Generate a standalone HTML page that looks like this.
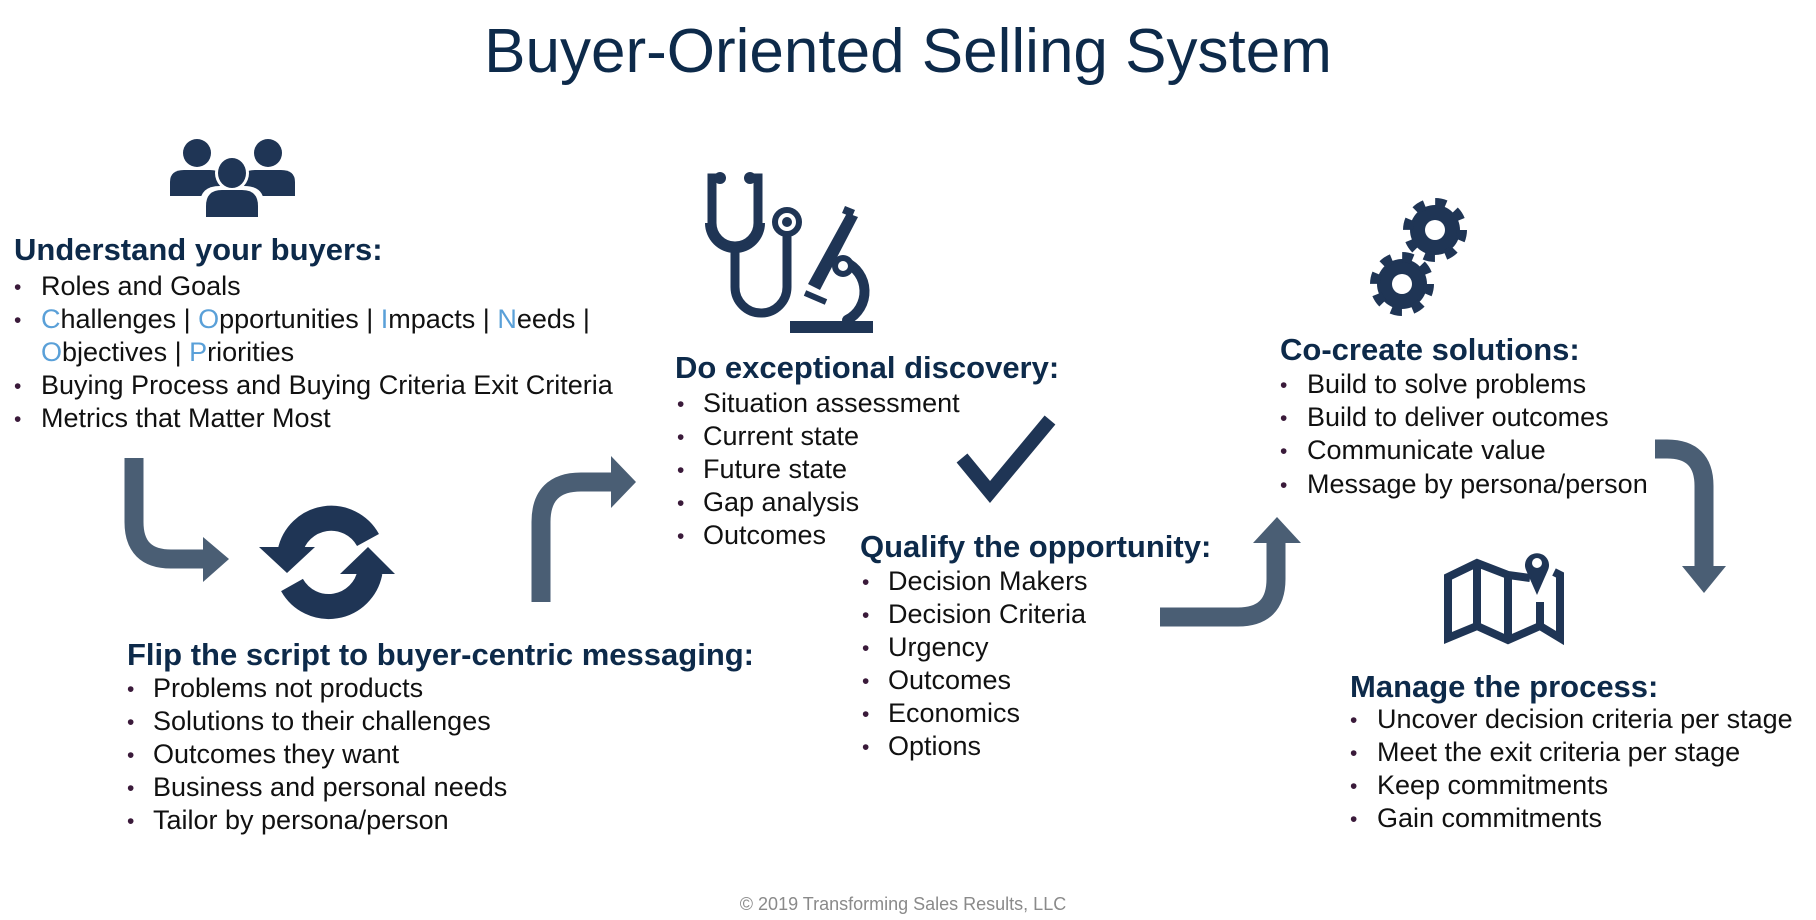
<!DOCTYPE html>
<html><head><meta charset="utf-8"><style>
html,body{margin:0;padding:0;background:#fff;}
svg{display:block;}
text{font-family:"Liberation Sans",Arial,sans-serif;}
.h{font-weight:bold;font-size:31px;fill:#0d2a4a;}
.t{font-size:27px;fill:#111;}
.b{font-size:21px;fill:#3a1a3a;}
.c{fill:#5aa0d8;}
</style></head><body>
<svg width="1816" height="920" viewBox="0 0 1816 920" xmlns="http://www.w3.org/2000/svg">
<text x="908" y="72" text-anchor="middle" font-size="62" fill="#0d2a4a">Buyer-Oriented Selling System</text>

<!-- people icon -->
<g fill="#1f3555">
<ellipse cx="197" cy="153" rx="14" ry="14"/>
<ellipse cx="268" cy="153" rx="14" ry="14"/>
<path d="M170 196 V182 Q170 170 184 170 H210 Q224 170 224 182 V196 Z"/>
<path d="M241 196 V182 Q241 170 255 170 H281 Q295 170 295 182 V196 Z"/>
<ellipse cx="232" cy="173" rx="17" ry="18" fill="#fff"/>
<path d="M200 219 V204 Q200 186 220 186 H244 Q264 186 264 204 V219 Z" fill="#fff"/>
<ellipse cx="232" cy="173" rx="14" ry="15"/>
<path d="M206 217 V206 Q206 190 222 190 H242 Q258 190 258 206 V217 Z"/>
</g>

<!-- stethoscope & microscope -->
<g fill="none" stroke="#1f3555" stroke-width="9" stroke-linecap="round">
<path d="M720 178 H712 V223 A23 23 0 0 0 758 223 V178 H750"/>
<path d="M735 250 V287 A26 26 0 0 0 787 287 V237"/>
<circle cx="787" cy="222" r="12" stroke-width="6"/>
<path d="M845 262 A32 32 0 0 1 847 320" stroke-width="10"/>
<path d="M805 293 L826 302" stroke-width="6" stroke-linecap="butt"/>
</g>
<g fill="#1f3555">
<circle cx="720" cy="178" r="6"/><circle cx="750" cy="178" r="6"/>
<path d="M705 223 A30 30 0 0 0 765 223 L758 223 A23 23 0 0 1 712 223 Z"/>
<polygon points="847,213 858,217 820,290 808,284"/>
<polygon points="845,206 855,210 852,217 842,213"/>
<rect x="790" y="321" width="83" height="12"/>
<circle cx="843" cy="266" r="11"/>
</g>
<circle cx="843" cy="266" r="5" fill="#fff"/>
<circle cx="787" cy="222" r="5" fill="#1f3555"/>

<!-- refresh icon -->
<g fill="none" stroke="#1f3555" stroke-width="25">
<path d="M368 540 A42 42 0 0 0 290 552"/>
<path d="M292 585 A42 42 0 0 0 370 572"/>
</g>
<g fill="#1f3555">
<polygon points="259,547 315,547 287,573"/>
<polygon points="340,574 395,574 368,547"/>
</g>

<!-- checkmark -->
<polyline points="962,458 990,492 1050,420" fill="none" stroke="#1f3555" stroke-width="14"/>

<!-- gears -->
<g fill="#1f3555">
<circle cx="1435" cy="230" r="25"/>
<circle cx="1435" cy="230" r="27" fill="none" stroke="#1f3555" stroke-width="10" stroke-dasharray="10.6 10.6"/>
<circle cx="1402" cy="284" r="25"/>
<circle cx="1402" cy="284" r="27" fill="none" stroke="#1f3555" stroke-width="10" stroke-dasharray="10.6 10.6"/>
</g>
<circle cx="1435" cy="230" r="10" fill="#fff"/>
<circle cx="1402" cy="284" r="10" fill="#fff"/>

<!-- map -->
<g fill="none" stroke="#1f3555" stroke-width="8" stroke-linejoin="miter">
<polyline points="1530,578 1508,575 1477,563 1448,577 1448,638 1477,626 1508,640 1540,626 1560,638 1560,575 1554,572"/>
<line x1="1477" y1="563" x2="1477" y2="626"/>
<line x1="1508" y1="575" x2="1508" y2="640"/>
<line x1="1540" y1="602" x2="1540" y2="626"/>
</g>
<path d="M1537 595 L1526 570 A12 12 0 1 1 1548 570 Z" fill="#1f3555"/>
<circle cx="1537" cy="563" r="5" fill="#fff"/>

<!-- arrows -->
<g fill="none" stroke="#4a5e74" stroke-width="19">
<path d="M134 458 V522 Q134 559 171 559 H206"/>
<path d="M541 602 V522 Q541 482 581 482 H613"/>
<path d="M1160 617 H1238 Q1276 617 1276 579 V541"/>
<path d="M1655 449 H1667 Q1704 449 1704 486 V568"/>
</g>
<g fill="#4a5e74">
<polygon points="203,537 229,559 203,582"/>
<polygon points="611,456 636,482 611,508"/>
<polygon points="1253,543 1277,517 1301,543"/>
<polygon points="1682,566 1704,593 1726,566"/>
</g>

<!-- Understand -->
<text class="h" x="14" y="260">Understand your buyers:</text>
<g class="b"><text x="14" y="294">•</text><text x="14" y="327">•</text><text x="14" y="393">•</text><text x="14" y="426">•</text></g>
<g class="t">
<text x="41" y="295">Roles and Goals</text>
<text x="41" y="328"><tspan class="c">C</tspan>hallenges | <tspan class="c">O</tspan>pportunities | <tspan class="c">I</tspan>mpacts | <tspan class="c">N</tspan>eeds |</text>
<text x="41" y="361"><tspan class="c">O</tspan>bjectives | <tspan class="c">P</tspan>riorities</text>
<text x="41" y="394">Buying Process and Buying Criteria Exit Criteria</text>
<text x="41" y="427">Metrics that Matter Most</text>
</g>

<!-- Discovery -->
<text class="h" x="675" y="378">Do exceptional discovery:</text>
<g class="b"><text x="677" y="411">•</text><text x="677" y="444">•</text><text x="677" y="477">•</text><text x="677" y="510">•</text><text x="677" y="543">•</text></g>
<g class="t">
<text x="703" y="412">Situation assessment</text>
<text x="703" y="445">Current state</text>
<text x="703" y="478">Future state</text>
<text x="703" y="511">Gap analysis</text>
<text x="703" y="544">Outcomes</text>
</g>

<!-- Co-create -->
<text class="h" x="1280" y="360">Co-create solutions:</text>
<g class="b"><text x="1280" y="392">•</text><text x="1280" y="425">•</text><text x="1280" y="458">•</text><text x="1280" y="492">•</text></g>
<g class="t">
<text x="1307" y="393">Build to solve problems</text>
<text x="1307" y="426">Build to deliver outcomes</text>
<text x="1307" y="459">Communicate value</text>
<text x="1307" y="493">Message by persona/person</text>
</g>

<!-- Qualify -->
<text class="h" x="860" y="557">Qualify the opportunity:</text>
<g class="b"><text x="862" y="589">•</text><text x="862" y="622">•</text><text x="862" y="655">•</text><text x="862" y="688">•</text><text x="862" y="721">•</text><text x="862" y="754">•</text></g>
<g class="t">
<text x="888" y="590">Decision Makers</text>
<text x="888" y="623">Decision Criteria</text>
<text x="888" y="656">Urgency</text>
<text x="888" y="689">Outcomes</text>
<text x="888" y="722">Economics</text>
<text x="888" y="755">Options</text>
</g>

<!-- Flip -->
<text class="h" x="127" y="665">Flip the script to buyer-centric messaging:</text>
<g class="b"><text x="127" y="696">•</text><text x="127" y="729">•</text><text x="127" y="762">•</text><text x="127" y="795">•</text><text x="127" y="828">•</text></g>
<g class="t">
<text x="153" y="697">Problems not products</text>
<text x="153" y="730">Solutions to their challenges</text>
<text x="153" y="763">Outcomes they want</text>
<text x="153" y="796">Business and personal needs</text>
<text x="153" y="829">Tailor by persona/person</text>
</g>

<!-- Manage -->
<text class="h" x="1350" y="697">Manage the process:</text>
<g class="b"><text x="1350" y="727">•</text><text x="1350" y="760">•</text><text x="1350" y="793">•</text><text x="1350" y="826">•</text></g>
<g class="t">
<text x="1377" y="728">Uncover decision criteria per stage</text>
<text x="1377" y="761">Meet the exit criteria per stage</text>
<text x="1377" y="794">Keep commitments</text>
<text x="1377" y="827">Gain commitments</text>
</g>

<text x="903" y="910" text-anchor="middle" font-size="18" fill="#8a8a8a">© 2019 Transforming Sales Results, LLC</text>
</svg>
</body></html>
